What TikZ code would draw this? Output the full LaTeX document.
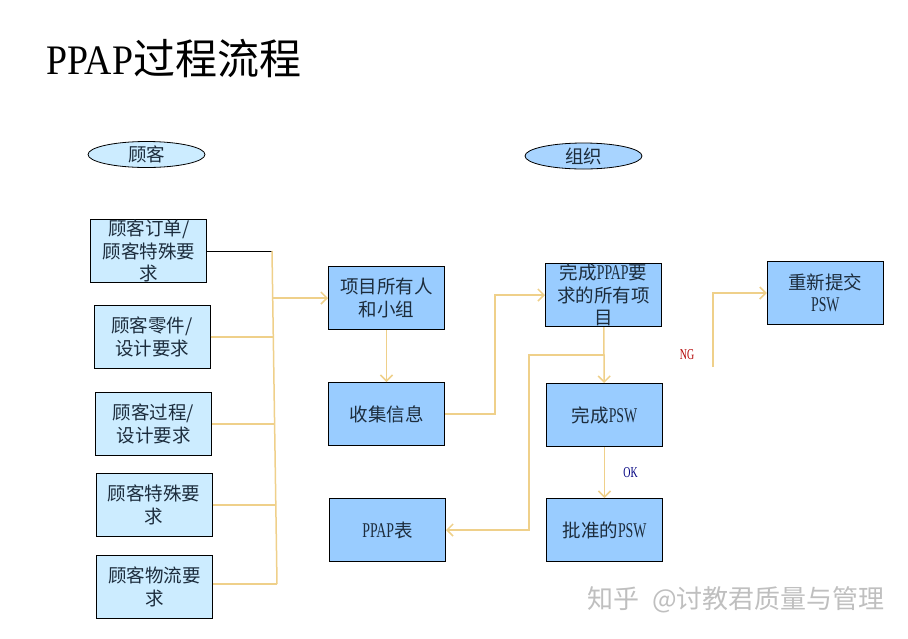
\documentclass[tikz,border=0pt]{standalone}
\usepackage{fontspec}
\setmainfont{Noto Sans CJK SC}
\newfontfamily\titlelat[FakeStretch=0.9]{Liberation Serif}
\newfontfamily\boxlat[FakeStretch=0.66]{Liberation Serif}
\usetikzlibrary{arrows.meta}
\usetikzlibrary{shapes.geometric}
\definecolor{boxlight}{HTML}{CCECFF}
\definecolor{boxblue}{HTML}{99CCFF}
\definecolor{flowline}{HTML}{EFD08A}
\definecolor{boxtext}{HTML}{1C2C3C}
\newcommand{\lat}[1]{{\boxlat\fontsize{21}{22.5}\selectfont #1}}
\tikzset{basic box/.style={draw=black,line width=1pt,minimum width=116pt,minimum height=63pt,inner sep=0pt,
                           align=center,text=boxtext,font=\fontsize{18.5}{22.5}\selectfont}}
\tikzset{input box/.style={basic box,fill=boxlight}}
\tikzset{work box/.style={basic box,fill=boxblue}}
\tikzset{side/.style={ellipse,draw=black,line width=.8pt,minimum width=117pt,minimum height=26pt,inner sep=0pt,
                      text=boxtext,font=\fontsize{18.5}{22.5}\selectfont}}
\tikzset{link/.style={draw=flowline,line width=1.5pt}}
\tikzset{flow/.style={link,-{Straight Barb[length=6pt,width=12pt]}}}
\begin{document}
\begin{tikzpicture}
    [
      x=1pt,y=-1pt,
    ]
    \useasboundingbox (0,0) rectangle (908,638);

    % title
    \node [inner sep=0pt,anchor=west] (vTitle) at (46,58)
      {\fontsize{42}{46}\selectfont{\titlelat PPAP}过程流程};

    % sides
    \node [side,fill=boxlight] (vS1) at (146.5,154.5) {顾客};
    \node [side,fill=boxblue!85!white] (vS2) at (583.5,156) {组织};

    % customer inputs
    \foreach \n/\x/\y/\t in {1/148.75/251/{顾客订单/\\顾客特殊要\\求},
                             2/152/337/{顾客零件/\\设计要求},
                             3/153.5/424/{顾客过程/\\设计要求},
                             4/154/505/{顾客特殊要\\求},
                             5/154.5/587/{顾客物流要\\求}}
      \node [input box] (vC\n) at (\x,\y) {\t};

    % work steps
    \node [work box] (vOwner) at (386.5,298) {项目所有人\\和小组};
    \node [work box] (vInfo) at (386.5,414) {收集信息};
    \node [work box] (vTable) at (387.5,530) {\lat{PPAP}表};
    \node [work box] (vItems) at (603.5,295) {完成\lat{PPAP}要\\求的所有项\\目};
    \node [work box] (vDone) at (604.5,415) {完成\lat{PSW}};
    \node [work box] (vOk) at (604.5,530) {批准的\lat{PSW}};
    \node [work box] (vAgain) at (825.3,293) {重新提交\\\lat{PSW}};

    % trunk
    \coordinate (tjTop) at (272,251);
    \coordinate (tjBot) at (277,584);
    \coordinate (tjOut) at (273,298);
    \draw [line width=1pt,black] (vC1.east) -- (tjTop);
    \draw [link] (tjTop) -- (tjBot);
    \foreach \n/\x in {2/274,3/275,4/276}
      {
        \coordinate (tj\n) at (\x,0);
        \draw [link] (vC\n.east) -- (vC\n.east -| tj\n);
      }
    \draw [link] (vC5.east |- tjBot) -- (tjBot);
    \draw [flow] (tjOut) -- (vOwner.west);

    % steps
    \coordinate (mInfo) at (495,414);
    \coordinate (brStart) at (604,355);
    \coordinate (brTurn) at (529,355);
    \coordinate (ngStart) at (713,367);
    \draw [flow] (vOwner) -- (vInfo);
    \draw [flow] (vInfo.east) -- (mInfo) |- (vItems.west);
    \draw [flow] (vItems) -- (vDone);
    \draw [flow] (vDone) -- (vOk);
    \draw [flow] (brStart) -- (brTurn) |- (vTable.east);
    \draw [flow] (ngStart) |- (vAgain.west);

    % labels
    \node [inner sep=0pt,text=red!70!black,font=\boxlat\fontsize{15}{16}\selectfont] (lNG) at (687,355) {NG};
    \node [inner sep=0pt,text=blue!50!black,font=\boxlat\fontsize{15}{16}\selectfont] (lOK) at (630.5,472.5) {OK};

    % mark
    \node [inner sep=0pt,anchor=east,text=black!25] (vMark) at (885,600)
      {\fontsize{26}{30}\selectfont 知乎\hspace{13pt}@讨教君质量与管理};
\end{tikzpicture}
\end{document}
